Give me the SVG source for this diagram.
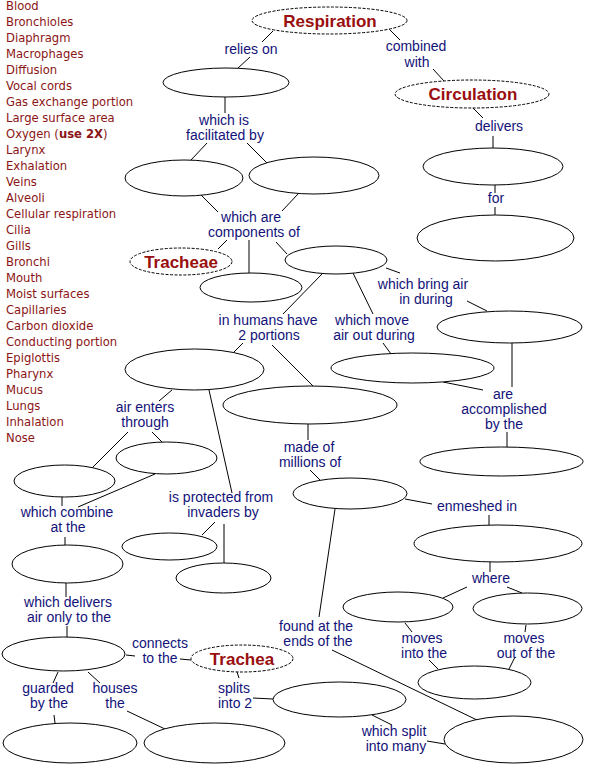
<svg xmlns="http://www.w3.org/2000/svg" width="591" height="769" viewBox="0 0 591 769">
<style>
.bg{fill:#ffffff}
.e{fill:#ffffff;stroke:#000;stroke-width:1}
.n{fill:#ffffff;stroke:#000;stroke-width:1;stroke-dasharray:3 1.5}
.c line{stroke:#000;stroke-width:1}
.l{font-family:"Liberation Sans",Arial,sans-serif;font-size:14px;fill:#12127a;text-anchor:middle}
.t{font-family:"Liberation Sans",Arial,sans-serif;font-size:17px;font-weight:bold;fill:#990f0f;text-anchor:middle}
.w{font-family:"DejaVu Sans",sans-serif;font-size:11.6px;fill:#8b1515}
</style>
<rect class="bg" width="591" height="769"/>
<g id="wordlist" class="w">
<text x="6" y="10">Blood</text>
<text x="6" y="26">Bronchioles</text>
<text x="6" y="42">Diaphragm</text>
<text x="6" y="58">Macrophages</text>
<text x="6" y="74">Diffusion</text>
<text x="6" y="90">Vocal cords</text>
<text x="6" y="106">Gas exchange portion</text>
<text x="6" y="122">Large surface area</text>
<text x="6" y="138">Oxygen (<tspan font-weight="bold">use 2X</tspan>)</text>
<text x="6" y="154">Larynx</text>
<text x="6" y="170">Exhalation</text>
<text x="6" y="186">Veins</text>
<text x="6" y="202">Alveoli</text>
<text x="6" y="218">Cellular respiration</text>
<text x="6" y="234">Cilia</text>
<text x="6" y="250">Gills</text>
<text x="6" y="266">Bronchi</text>
<text x="6" y="282">Mouth</text>
<text x="6" y="298">Moist surfaces</text>
<text x="6" y="314">Capillaries</text>
<text x="6" y="330">Carbon dioxide</text>
<text x="6" y="346">Conducting portion</text>
<text x="6" y="362">Epiglottis</text>
<text x="6" y="378">Pharynx</text>
<text x="6" y="394">Mucus</text>
<text x="6" y="410">Lungs</text>
<text x="6" y="426">Inhalation</text>
<text x="6" y="442">Nose</text>
</g>
<g id="connectors" class="c">
<line x1="273" y1="31" x2="262" y2="42"/>
<line x1="250" y1="57" x2="237" y2="69"/>
<line x1="225" y1="97" x2="225" y2="113"/>
<line x1="207" y1="143" x2="191" y2="160"/>
<line x1="247" y1="143" x2="267" y2="163"/>
<line x1="201" y1="195" x2="218" y2="212"/>
<line x1="298" y1="194" x2="282" y2="211"/>
<line x1="227" y1="240" x2="218" y2="249"/>
<line x1="249" y1="240" x2="249" y2="273"/>
<line x1="276" y1="242" x2="287" y2="254"/>
<line x1="386" y1="268" x2="400" y2="273"/>
<line x1="467" y1="301" x2="487" y2="311"/>
<line x1="512" y1="343" x2="512" y2="387"/>
<line x1="507" y1="432" x2="507" y2="447"/>
<line x1="353" y1="273" x2="373" y2="314"/>
<line x1="383" y1="343" x2="391" y2="354"/>
<line x1="443" y1="382" x2="483" y2="390"/>
<line x1="322" y1="274" x2="283" y2="314"/>
<line x1="243" y1="343" x2="233" y2="353"/>
<line x1="272" y1="345" x2="313" y2="386"/>
<line x1="308" y1="424" x2="308" y2="440"/>
<line x1="310" y1="470" x2="320" y2="480"/>
<line x1="405" y1="499" x2="432" y2="504"/>
<line x1="489" y1="515" x2="489" y2="525"/>
<line x1="490" y1="562" x2="490" y2="572"/>
<line x1="467" y1="587" x2="443" y2="598"/>
<line x1="507" y1="587" x2="522" y2="593"/>
<line x1="405" y1="623" x2="412" y2="632"/>
<line x1="429" y1="660" x2="438" y2="669"/>
<line x1="526" y1="625" x2="525" y2="632"/>
<line x1="515" y1="657" x2="509" y2="669"/>
<line x1="335" y1="509" x2="319" y2="617"/>
<line x1="332" y1="650" x2="477" y2="720"/>
<line x1="172" y1="390" x2="159" y2="401"/>
<line x1="128" y1="432" x2="92" y2="468"/>
<line x1="152" y1="432" x2="162" y2="442"/>
<line x1="155" y1="474" x2="78" y2="507"/>
<line x1="62" y1="497" x2="62" y2="506"/>
<line x1="65" y1="537" x2="65" y2="545"/>
<line x1="66" y1="583" x2="66" y2="597"/>
<line x1="67" y1="626" x2="67" y2="637"/>
<line x1="126" y1="655" x2="135" y2="656"/>
<line x1="180" y1="659" x2="191" y2="660"/>
<line x1="237" y1="672" x2="239" y2="678"/>
<line x1="253" y1="698" x2="273" y2="699"/>
<line x1="372" y1="715" x2="392" y2="725"/>
<line x1="427" y1="741" x2="445" y2="744"/>
<line x1="58" y1="672" x2="53" y2="683"/>
<line x1="54" y1="715" x2="55" y2="723"/>
<line x1="88" y1="672" x2="100" y2="683"/>
<line x1="127" y1="711" x2="165" y2="729"/>
<line x1="209" y1="390" x2="232" y2="493"/>
<line x1="215" y1="522" x2="202" y2="535"/>
<line x1="224" y1="524" x2="224" y2="563"/>
<line x1="389" y1="29" x2="400" y2="40"/>
<line x1="433" y1="69" x2="444" y2="81"/>
<line x1="473" y1="108" x2="483" y2="118"/>
<line x1="493" y1="136" x2="493" y2="148"/>
<line x1="495" y1="185" x2="495" y2="193"/>
<line x1="495" y1="207" x2="495" y2="215"/>
</g>
<g id="labels" class="l">
<text x="251" y="54">relies on</text>
<text x="224" y="125">which is</text>
<text x="225" y="140">facilitated by</text>
<text x="251" y="222">which are</text>
<text x="254" y="237">components of</text>
<text x="423" y="289">which bring air</text>
<text x="426" y="304">in during</text>
<text x="503" y="399">are</text>
<text x="504" y="414">accomplished</text>
<text x="504" y="429">by the</text>
<text x="372" y="325">which move</text>
<text x="374" y="340">air out during</text>
<text x="268" y="325">in humans have</text>
<text x="269" y="340">2 portions</text>
<text x="309" y="452">made of</text>
<text x="310" y="467">millions of</text>
<text x="477" y="511">enmeshed in</text>
<text x="491" y="583">where</text>
<text x="422" y="643">moves</text>
<text x="424" y="658">into the</text>
<text x="524" y="643">moves</text>
<text x="526" y="658">out of the</text>
<text x="316" y="631">found at the</text>
<text x="318" y="646">ends of the</text>
<text x="145" y="412">air enters</text>
<text x="145" y="427">through</text>
<text x="67" y="517">which combine</text>
<text x="68" y="532">at the</text>
<text x="68" y="607">which delivers</text>
<text x="69" y="622">air only to the</text>
<text x="160" y="648">connects</text>
<text x="160" y="663">to the</text>
<text x="234" y="693">splits</text>
<text x="235" y="708">into 2</text>
<text x="394" y="736">which split</text>
<text x="396" y="751">into many</text>
<text x="48" y="693">guarded</text>
<text x="49" y="708">by the</text>
<text x="115" y="693">houses</text>
<text x="115" y="708">the</text>
<text x="221" y="502">is protected from</text>
<text x="223" y="517">invaders by</text>
<text x="416" y="51">combined</text>
<text x="417" y="67">with</text>
<text x="499" y="131">delivers</text>
<text x="496" y="203">for</text>
</g>
<g id="respiration"><ellipse class="n" cx="329.5" cy="20.5" rx="77.5" ry="13.5"/><text class="t" x="330" y="26.5">Respiration</text></g>
<g id="circulation"><ellipse class="n" cx="472" cy="94" rx="77" ry="14"/><text class="t" x="473" y="100">Circulation</text></g>
<g id="tracheae"><ellipse class="n" cx="181" cy="261.5" rx="51" ry="13.5"/><text class="t" x="181" y="267.5">Tracheae</text></g>
<g id="trachea"><ellipse class="n" cx="242" cy="658.5" rx="51" ry="13.5"/><text class="t" x="242" y="664.5">Trachea</text></g>
<g id="nA"><ellipse class="e" cx="226" cy="82.5" rx="63" ry="14.5"/></g>
<g id="nB"><ellipse class="e" cx="184" cy="178" rx="59" ry="18"/></g>
<g id="nC"><ellipse class="e" cx="314" cy="175.5" rx="65" ry="18.5"/></g>
<g id="nD"><ellipse class="e" cx="251" cy="287.5" rx="51" ry="14.5"/></g>
<g id="nE"><ellipse class="e" cx="336" cy="260" rx="51" ry="14"/></g>
<g id="nF"><ellipse class="e" cx="509.5" cy="327" rx="72.5" ry="16"/></g>
<g id="nG"><ellipse class="e" cx="501.5" cy="461.5" rx="81.5" ry="14.5"/></g>
<g id="nH"><ellipse class="e" cx="412.5" cy="368" rx="81.5" ry="15"/></g>
<g id="nI"><ellipse class="e" cx="194.5" cy="369.5" rx="69.5" ry="20.5"/></g>
<g id="nJ"><ellipse class="e" cx="310" cy="405" rx="87" ry="19"/></g>
<g id="nK"><ellipse class="e" cx="350" cy="493.5" rx="57" ry="15.5"/></g>
<g id="nL"><ellipse class="e" cx="498" cy="543.5" rx="84" ry="18.5"/></g>
<g id="nM"><ellipse class="e" cx="398" cy="607" rx="55" ry="15"/></g>
<g id="nN"><ellipse class="e" cx="527.5" cy="608.5" rx="54.5" ry="15.5"/></g>
<g id="nO"><ellipse class="e" cx="474.5" cy="682.5" rx="56.5" ry="16.5"/></g>
<g id="nQ"><ellipse class="e" cx="513.5" cy="739.5" rx="69.5" ry="23.5"/></g>
<g id="nR"><ellipse class="e" cx="166.5" cy="458" rx="50.5" ry="16"/></g>
<g id="nS"><ellipse class="e" cx="64.5" cy="481" rx="50.5" ry="16"/></g>
<g id="nT"><ellipse class="e" cx="67.5" cy="564" rx="55.5" ry="19"/></g>
<g id="nU"><ellipse class="e" cx="63.5" cy="654" rx="61.5" ry="17"/></g>
<g id="nV"><ellipse class="e" cx="339.5" cy="699.5" rx="66.5" ry="17.5"/></g>
<g id="nW"><ellipse class="e" cx="70" cy="743" rx="67" ry="20"/></g>
<g id="nX"><ellipse class="e" cx="214.5" cy="743" rx="70.5" ry="20"/></g>
<g id="nY"><ellipse class="e" cx="169.5" cy="546.5" rx="47.5" ry="13.5"/></g>
<g id="nZ"><ellipse class="e" cx="223.5" cy="578" rx="47.5" ry="15"/></g>
<g id="nAA"><ellipse class="e" cx="493" cy="166.5" rx="70" ry="18.5"/></g>
<g id="nBB"><ellipse class="e" cx="495.5" cy="238" rx="78.5" ry="23"/></g>
</svg>
